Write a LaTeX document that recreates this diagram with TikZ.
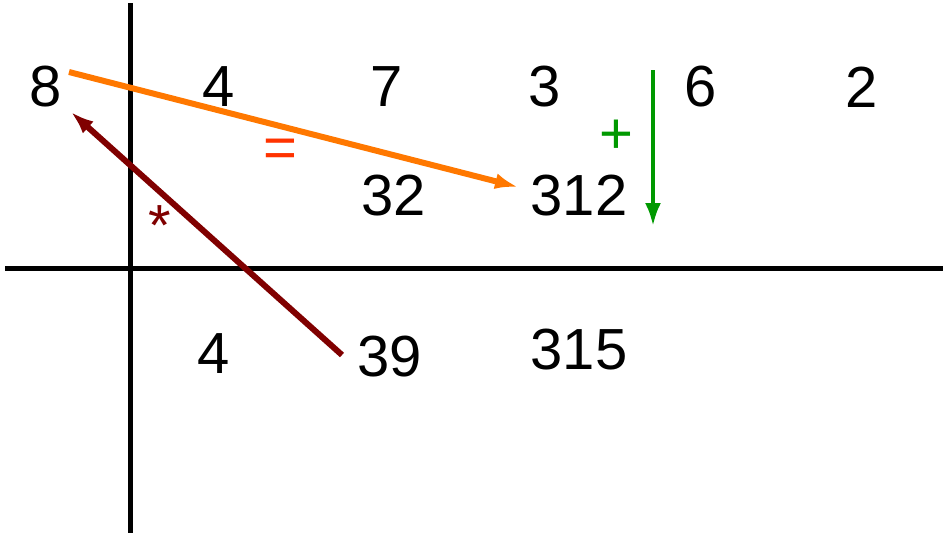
\documentclass[tikz,border=0pt]{standalone}
\usepackage{fontspec}
\setmainfont{Liberation Sans}
\usetikzlibrary{arrows.meta}
\tikzset{>={Latex[length=23pt,width=16pt]}}
\definecolor{darkred}{RGB}{128,0,0}
\definecolor{darkgreen}{RGB}{0,153,0}
\definecolor{orangearrow}{RGB}{255,120,0}
\definecolor{eqred}{RGB}{255,51,0}
\tikzset{num/.style={font=\fontsize{58}{60}\selectfont, inner sep=0pt}}

\begin{document}
\begin{tikzpicture}[x=1pt,y=-1pt]
	\useasboundingbox (0,0) rectangle (949,539);
	\draw[line width=5pt](130,3)--(130,533);
	\draw[line width=5pt](5,268)--(943,268);

	\node[num] (n8) at (46,87){8};
	\node[num] (n4) at (219,87){4};
	\node[num] (n7) at (387,87){7};
	\node[num] (n3) at (545,87){3};
	\node[num] (n6) at (701,87){6};
	\node[num] (n2) at (862,87){2};

	\node[num] (n32) at (394,196){32};
	\node[num] (n312) at (579,196){312};

	\node[num] (m4) at (214,354){4};
	\node[num] (m39) at (390,357){39};
	\node[num] (m315) at (579,350){315};

	\coordinate (o1) at (69,72);
	\coordinate (o2) at (518,187);
	\coordinate (r1) at (342,355);
	\coordinate (r2) at (71,112);
	\coordinate (g1) at (653,70);
	\coordinate (g2) at (653,226);

	\draw[color=orangearrow, line width=6pt][->](o1)--(o2);
	\draw[color=darkred, line width=6pt][->](r1)--(r2);
	\draw[color=darkgreen, line width=4pt][->](g1)--(g2);

	\node[num, color=eqred] (eq) at (280,153){=};
	\node[num, color=darkgreen] (plus) at (616,137){+};
	\node[num, color=darkred] (star) at (160,226){*};
\end{tikzpicture}
\end{document}
